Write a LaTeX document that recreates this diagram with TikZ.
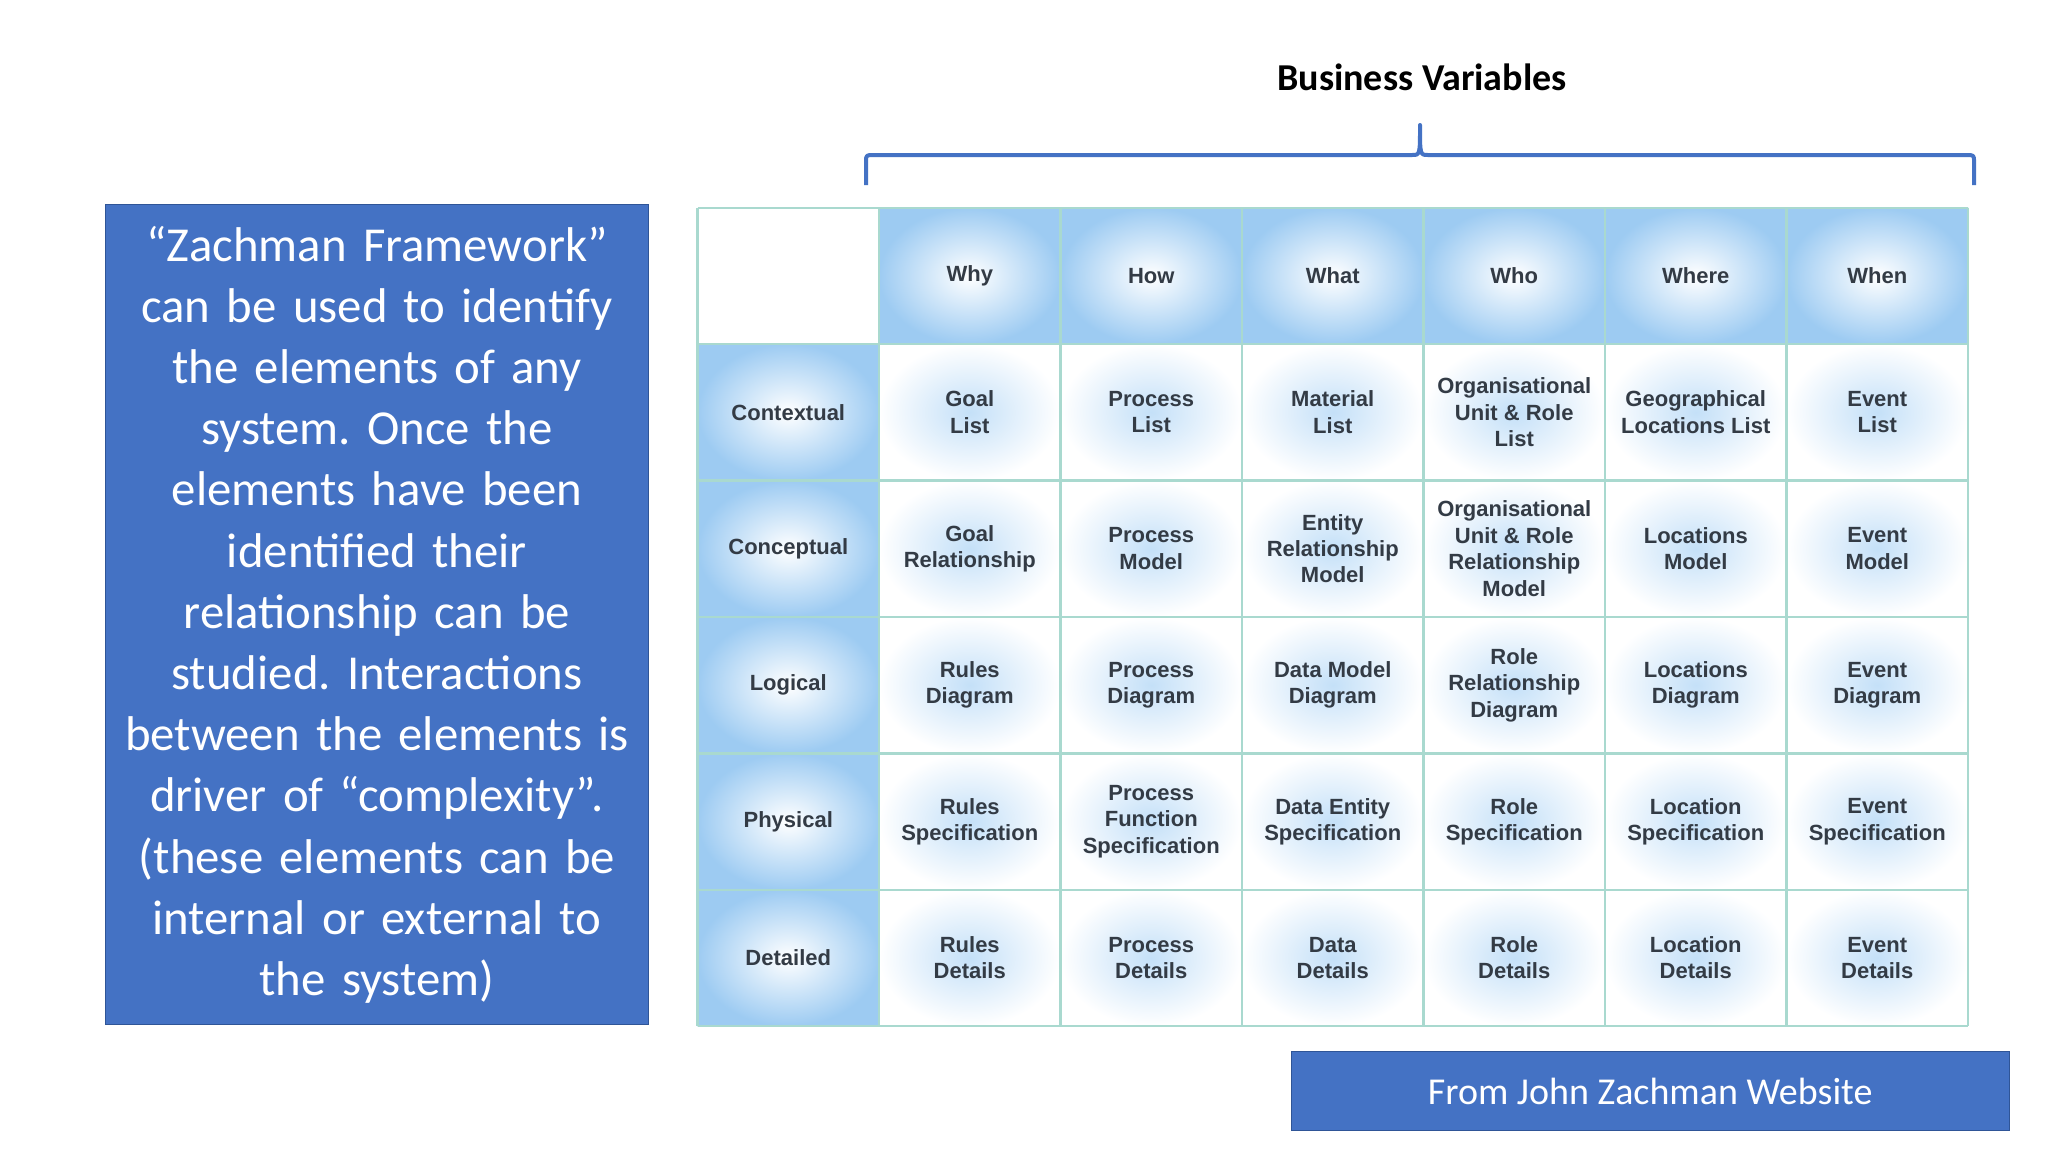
\documentclass[tikz,border=0pt]{standalone}
\usepackage{fontspec}
\setmainfont{Carlito}
\newfontfamily\cellfont{Liberation Sans}
\definecolor{boxblue}{HTML}{4472C4}
\definecolor{boxedge}{HTML}{2F5597}
\definecolor{gridc}{HTML}{A9D9CF}
\definecolor{hdrblue}{HTML}{9DCBF2}
\definecolor{bodyblue}{HTML}{C4E0F8}
\definecolor{txt}{HTML}{333B45}
\frenchspacing
\begin{document}
\begin{tikzpicture}[x=0.5pt,y=-0.5pt,
  hdr/.style={shading=radial,inner color=white,outer color=hdrblue},
  bodycell/.style={shading=radial,inner color=bodyblue,outer color=white},
  lbl/.style={font=\cellfont\bfseries\fontsize{11}{13.2}\selectfont,text=txt,align=center},
  bluebox/.style={fill=boxblue,draw=boxedge,line width=0.7pt}]
\useasboundingbox (0,0) rectangle (2048,1152);
\fill[white] (0,0) rectangle (2048,1152);
% left box
\node[bluebox,minimum width=271.75pt,minimum height=410pt,anchor=north west,inner sep=0pt] (left) at (104.5,204) {};
\node[text=white,align=center,text width=268pt,font=\fontsize{24.4}{30.6}\selectfont] (lefttxt) at (left.center)
{“Zachman Framework”\\ can be used to identify\\ the elements of any\\ system. Once the\\ elements have been\\ identified their\\ relationship can be\\ studied. Interactions\\ between the elements is\\ driver of “complexity”.\\ (these elements can be\\ internal or external to\\ the system)};
% bottom box
\node[bluebox,minimum width=359pt,minimum height=39.5pt,anchor=north west,inner sep=0pt,text=white,font=\fontsize{19}{22}\selectfont] (src) at (1290.5,1051) {From John Zachman Website};
% title and bracket
\node[font=\bfseries\fontsize{19}{22}\selectfont] (title) at (1422,77) {Business Variables};
\draw[boxblue,line width=2pt,line join=round] (866,185) -- (866,162) .. controls (866,155) .. (874,155) -- (1412,155) .. controls (1420,155) .. (1420,125) .. controls (1420,155) .. (1428,155) -- (1966,155) .. controls (1974,155) .. (1974,162) -- (1974,185);
% grid
\def\gx{697.5}\def\gy{207.7}\def\cw{181.5}\def\ch{136.4}
\fill[white] (\gx,\gy) rectangle ++(\cw,\ch);
\foreach \c/\t [count=\i] in {Why,How,What,Who,Where,When}{
  \shade[hdr] (\gx+\i*\cw,\gy) rectangle ++(\cw,\ch);
  \node[lbl] (h\i) at (\gx+\i*\cw+0.5*\cw,\gy+0.5*\ch) {\c};
}
\foreach \r [count=\j] in {Contextual,Conceptual,Logical,Physical,Detailed}{
  \shade[hdr] (\gx,\gy+\j*\ch) rectangle ++(\cw,\ch);
  \node[lbl] (r\j) at (\gx+0.5*\cw,\gy+\j*\ch+0.5*\ch) {\r};
  \foreach \i in {1,...,6}{
    \shade[bodycell] (\gx+\i*\cw,\gy+\j*\ch) rectangle ++(\cw,\ch);
  }
}
\foreach \i in {0,...,7}{\draw[gridc,line width=1.2pt] (\gx+\i*\cw,\gy) -- (\gx+\i*\cw,\gy+6*\ch);}
\foreach \j in {0,...,6}{\draw[gridc,line width=1.2pt] (\gx,\gy+\j*\ch) -- (\gx+7*\cw,\gy+\j*\ch);}
% cell texts
\def\cellrow#1#2#3#4#5#6#7{%
  \node[lbl] at (\gx+1.5*\cw,\gy+#1*\ch+0.5*\ch) {#2};
  \node[lbl] at (\gx+2.5*\cw,\gy+#1*\ch+0.5*\ch) {#3};
  \node[lbl] at (\gx+3.5*\cw,\gy+#1*\ch+0.5*\ch) {#4};
  \node[lbl] at (\gx+4.5*\cw,\gy+#1*\ch+0.5*\ch) {#5};
  \node[lbl] at (\gx+5.5*\cw,\gy+#1*\ch+0.5*\ch) {#6};
  \node[lbl] at (\gx+6.5*\cw,\gy+#1*\ch+0.5*\ch) {#7};}
\cellrow{1}{Goal\\List}{Process\\List}{Material\\List}{Organisational\\Unit \& Role\\List}{Geographical\\Locations List}{Event\\List}
\cellrow{2}{Goal\\Relationship}{Process\\Model}{Entity\\Relationship\\Model}{Organisational\\Unit \& Role\\Relationship\\Model}{Locations\\Model}{Event\\Model}
\cellrow{3}{Rules\\Diagram}{Process\\Diagram}{Data Model\\Diagram}{Role\\Relationship\\Diagram}{Locations\\Diagram}{Event\\Diagram}
\cellrow{4}{Rules\\Specification}{Process\\Function\\Specification}{Data Entity\\Specification}{Role\\Specification}{Location\\Specification}{Event\\Specification}
\cellrow{5}{Rules\\Details}{Process\\Details}{Data\\Details}{Role\\Details}{Location\\Details}{Event\\Details}
\end{tikzpicture}
\end{document}
